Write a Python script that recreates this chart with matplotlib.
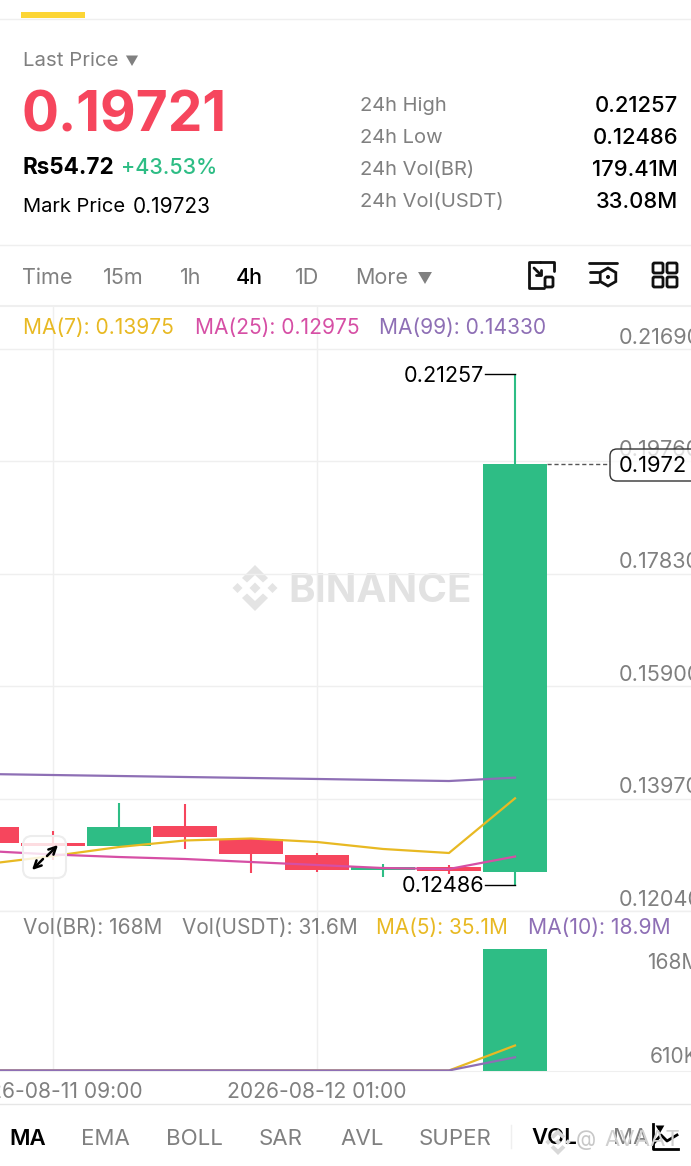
import matplotlib
matplotlib.use('Agg')
import matplotlib.pyplot as plt
from matplotlib.patches import FancyBboxPatch, Polygon, Rectangle, RegularPolygon
import numpy as np

plt.rcParams['font.family'] = ['Inter', 'DejaVu Sans']

W, H = 691, 1166
GREEN = '#2EBD85'
RED = '#F6465D'
YELLOW = '#E8B923'
PINK = '#D64FA5'
PURPLE = '#8E6FB5'
GRAY = '#808080'
GRID = '#EFEFEF'

# candles
idx = [0, 1, 2, 3, 4, 5, 6, 7, 8]
opens = [0.13482, 0.13203, 0.13156, 0.13500, 0.13276, 0.13007, 0.12749, 0.12801, 0.12710]
closes = [0.13208, 0.13156, 0.13488, 0.13311, 0.13014, 0.12744, 0.12796, 0.12727, 0.19721]
highs = [0.13482, 0.13419, 0.13895, 0.13877, 0.13276, 0.13041, 0.12847, 0.12830, 0.21257]
lows = [0.13208, 0.12916, 0.13156, 0.13110, 0.12693, 0.12710, 0.12624, 0.12675, 0.12486]

ma7 = [0.12847, 0.12984, 0.13139, 0.13251, 0.13285, 0.13225, 0.13105, 0.13036, 0.13975]
ma25 = [0.13070, 0.13010, 0.12967, 0.12933, 0.12881, 0.12830, 0.12778, 0.12761, 0.12975]
ma99 = [0.14392, 0.14375, 0.14358, 0.14341, 0.14324, 0.14307, 0.14289, 0.14272, 0.14330]

price_ticks = [0.21690, 0.19760, 0.17830, 0.15900, 0.13970, 0.12040]
price_labels = ['0.21690', '0.19760', '0.17830', '0.15900', '0.13970', '0.12040']

# volume panel, in millions
vols = [0.8, 0.6, 1.0, 0.9, 0.7, 0.8, 0.5, 0.6, 168.0]
vol_ma5 = [0.8, 0.8, 0.9, 0.9, 0.8, 0.8, 0.8, 0.7, 35.1]
vol_ma10 = [0.9, 0.9, 0.9, 0.9, 0.9, 0.8, 0.8, 0.8, 18.9]
time_ticks = [1, 5]
time_labels = ['2026-08-11 09:00', '2026-08-12 01:00']

tabs = ['Time', '15m', '1h', '4h', '1D', 'More']
tab_x = [22, 103, 180, 236, 295, 355]
indicators = ['MA', 'EMA', 'BOLL', 'SAR', 'AVL', 'SUPER']
indicator_x = [9, 81, 166, 259, 340, 419]
stats_names = ['24h High', '24h Low', '24h Vol(BR)', '24h Vol(USDT)']
stats_values = ['0.21257', '0.12486', '179.41M', '33.08M']
stats_y = [104, 136, 168, 200]

fig = plt.figure(figsize=(W / 100, H / 100), dpi=100, facecolor='white')

# whole-figure layer in pixel coordinates for the app chrome
ui = fig.add_axes([0, 0, 1, 1], zorder=0)
ui.set_xlim(0, W)
ui.set_ylim(H, 0)
ui.axis('off')


def txt(layer, x, y, s, size, color='black', weight='normal', ha='left', **kw):
    # va=center lands a bit high with this font, hence the +2
    return layer.text(x, y + 2, s, fontsize=size, color=color, fontweight=weight, ha=ha, va='center', **kw)


def logo(layer, cx, cy, r, color, zorder=1):
    # binance mark: middle + side diamonds, top and bottom chevrons
    k = r / 23.0
    for dx, dy, d in [(0, 0, 5.5), (-17.5, 0, 5), (17.5, 0, 5)]:
        layer.add_patch(Polygon([(cx + (dx) * k, cy + (dy - d) * k), (cx + (dx + d) * k, cy + dy * k),
                                 (cx + dx * k, cy + (dy + d) * k), (cx + (dx - d) * k, cy + dy * k)],
                                fc=color, ec='none', zorder=zorder))
    for s in (-1, 1):
        pts = [(0, 23), (13, 10), (8, 5.5), (0, 13), (-8, 5.5), (-13, 10)]
        layer.add_patch(Polygon([(cx + a * k, cy + s * b * k) for a, b in pts], fc=color, ec='none', zorder=zorder))


# header
ui.add_patch(Rectangle((21, 12), 64, 6, fc='#FCD535', ec='none'))
ui.plot([0, W], [18.5, 18.5], color=GRID, lw=1)
txt(ui, 23, 59, 'Last Price', 14.7, GRAY)
ui.add_patch(RegularPolygon((132, 59), 3, radius=7, orientation=0, fc=GRAY, ec='none'))
txt(ui, 22, 114, '0.19721', 39.6, RED, 'bold')
txt(ui, 23, 166, 'Rs54.72', 16.2, 'black', 'bold')
txt(ui, 121, 166, '+43.53%', 15.4, GREEN, 'medium')
txt(ui, 23, 205, 'Mark Price', 14.5)
txt(ui, 133, 205, '0.19723', 15)
for name, value, y in zip(stats_names, stats_values, stats_y):
    txt(ui, 360, y, name, 14.5, GRAY)
    txt(ui, 678, y, value, 15.8, 'black', 'medium', ha='right')
ui.plot([0, W], [244.5, 244.5], color=GRID, lw=1)

# interval tabs
for name, x in zip(tabs, tab_x):
    txt(ui, x, 276, name, 15.5, 'black' if name == '4h' else GRAY, 'medium' if name == '4h' else 'normal')
ui.add_patch(RegularPolygon((425, 276), 3, radius=8, orientation=0, fc=GRAY, ec='none'))

# toolbar icons
ic = dict(color='#111111', lw=2, solid_capstyle='round', solid_joinstyle='round')
ui.plot([540, 554, 554], [262, 262, 271], **ic)
ui.plot([540, 529, 529, 544], [262, 262, 288, 288], **ic)
ui.add_patch(FancyBboxPatch((545, 277), 8, 10, boxstyle='round,pad=0,rounding_size=1.5', fc='none', ec='#111111', lw=2))
ui.plot([534, 541], [268, 275], **ic)
ui.plot([536, 541, 541], [275, 275, 270], **ic)
ui.plot([589, 617], [263, 263], **ic)
ui.plot([590, 598], [272, 272], **ic)
ui.plot([590, 598], [282, 282], **ic)
ui.add_patch(RegularPolygon((608, 277), 6, radius=9, fc='none', ec='#111111', lw=2))
ui.add_patch(plt.Circle((608, 277), 2, fc='#111111', ec='none'))
for bx, by in [(653, 263), (667, 263), (653, 277), (667, 277)]:
    ui.add_patch(FancyBboxPatch((bx, by), 10, 10, boxstyle='round,pad=0,rounding_size=1.5', fc='none', ec='#111111', lw=2))
ui.plot([0, W], [306, 306], color=GRID, lw=1.5)

# price panel
px_per_price = 112.4 / 0.0193
ax = fig.add_axes([0, (H - 911) / H, 1, (911 - 306) / H], zorder=2)
ax.patch.set_alpha(0)
ax.set_xlim(13 / 66, 704 / 66)
ax.set_ylim(0.1204, 0.1204 + (911 - 306) / px_per_price)
for s in ax.spines.values():
    s.set_visible(False)
ax.tick_params(left=False, bottom=False, labelleft=False, labelbottom=False)
ax.set_yticks(price_ticks)
ax.set_xticks(time_ticks)
ax.grid(True, color=GRID, lw=1)
ax.set_axisbelow(True)

colors = [GREEN if c >= o else RED for o, c in zip(opens, closes)]
ax.vlines(idx, lows, highs, colors=colors, lw=1.5, zorder=2)
ax.bar(idx, np.abs(np.array(closes) - np.array(opens)), bottom=np.minimum(opens, closes),
       width=64 / 66, color=colors, zorder=3)
ax.plot(idx, ma99, color=PURPLE, lw=1.6, zorder=4)
ax.plot(idx, ma7, color=YELLOW, lw=1.6, zorder=4)
ax.plot(idx, ma25, color=PINK, lw=1.6, zorder=4)

# watermark in the chart
logo(ui, 255, 588, 23, '#E4E4E4', zorder=1)
txt(ui, 288, 589, 'BINANCE', 29, '#E2E2E2', 'bold')

# price labels sit on top of their gridline
for p, lab in zip(price_ticks, price_labels):
    ax.annotate(lab, (619, p), xycoords=('figure pixels', 'data'), xytext=(0, 1), textcoords='offset points',
                fontsize=15.6, color=GRAY, ha='left', va='bottom', annotation_clip=False, zorder=5)

# high / low callouts
ax.plot([7.55, 8], [highs[-1], highs[-1]], color='black', lw=1, zorder=5)
ax.plot([7.55, 8], [lows[-1], lows[-1]], color='black', lw=1, zorder=5)
ax.annotate('0.21257', (7.53, highs[-1]), xytext=(0, -1.5), textcoords='offset points',
            fontsize=15.6, ha='right', va='center', zorder=6)
ax.annotate('0.12486', (7.53, lows[-1]), xytext=(0, -1), textcoords='offset points',
            fontsize=15.6, ha='right', va='center', zorder=6)

# last price tag
ax.plot([8.485, 9.44], [closes[-1], closes[-1]], color='#555555', lw=1, ls=(0, (3, 2)), zorder=5)
ui_top = fig.add_axes([0, 0, 1, 1], zorder=5)
ui_top.set_xlim(0, W)
ui_top.set_ylim(H, 0)
ui_top.axis('off')
ui_top.add_patch(FancyBboxPatch((610, 449), 110, 32, boxstyle='round,pad=0,rounding_size=7',
                                fc=(1, 1, 1, 0.75), ec='#333333', lw=1))
txt(ui_top, 619, 464, '0.1972', 15.8)

# MA legend
txt(ui_top, 23, 326, 'MA(7): 0.13975', 15.1, YELLOW)
txt(ui_top, 195, 326, 'MA(25): 0.12975', 15.1, PINK)
txt(ui_top, 379, 326, 'MA(99): 0.14330', 15.1, PURPLE)

# floating expand button
ui_top.add_patch(FancyBboxPatch((23, 836), 43, 42, boxstyle='round,pad=0,rounding_size=9',
                                fc=(1, 1, 1, 0.82), ec='#EDEDED', lw=1.5))
arrow = dict(arrowstyle='->', color='black', lw=1.8, mutation_scale=13, shrinkA=0, shrinkB=0)
ui_top.annotate('', (58, 845), (47, 856), arrowprops=arrow)
ui_top.annotate('', (32, 870), (43, 859), arrowprops=arrow)

# volume panel
ui.plot([0, W], [911, 911], color=GRID, lw=1)
txt(ui_top, 23, 926, 'Vol(BR): 168M', 15, GRAY)
txt(ui_top, 182, 926, 'Vol(USDT): 31.6M', 15, GRAY)
txt(ui_top, 376, 926, 'MA(5): 35.1M', 15, YELLOW)
txt(ui_top, 528, 926, 'MA(10): 18.9M', 15.2, PURPLE)

vol_scale = 122 / 168.0
axv = fig.add_axes([0, (H - 1071) / H, 1, (1071 - 911) / H], zorder=2)
axv.patch.set_alpha(0)
axv.set_xlim(13 / 66, 704 / 66)
axv.set_ylim(0, 160 / vol_scale)
for s in axv.spines.values():
    s.set_visible(False)
axv.spines['bottom'].set_visible(True)
axv.spines['bottom'].set_color(GRID)
axv.set_xticks(time_ticks)
axv.set_xticklabels(time_labels, fontsize=15.2, color=GRAY)
axv.tick_params(axis='x', length=0, pad=8)
axv.tick_params(left=False, labelleft=False)
axv.grid(True, axis='x', color=GRID, lw=1)
axv.set_axisbelow(True)
axv.bar(idx, vols, width=64 / 66, color=colors, zorder=3)
axv.plot(idx, vol_ma5, color=YELLOW, lw=1.6, zorder=4)
axv.plot(idx, vol_ma10, color=PURPLE, lw=1.6, zorder=4)
txt(ui_top, 647, 961, '168M', 15, GRAY)
txt(ui_top, 650, 1055, '610K', 15, GRAY)

# indicator row
ui.plot([0, W], [1103.5, 1103.5], color='#E6E6E6', lw=1)
for name, x in zip(indicators, indicator_x):
    active = name == 'MA'
    txt(ui, x, 1137, name, 16, 'black' if active else GRAY, 'semibold' if active else 'normal')
ui.plot([511, 511], [1125, 1148], color=GRID, lw=1)
txt(ui, 531, 1136, 'VOL', 16, 'black', 'semibold')
txt(ui, 613, 1136, 'MA', 16, GRAY)
ui.plot([653, 653, 678], [1124, 1149, 1149], color='black', lw=2)
ui.plot([654, 661, 667, 677], [1143, 1135, 1141, 1135], color='black', lw=2)
ui.add_patch(RegularPolygon((660, 1128), 3, radius=5, orientation=0, fc='black', ec='none'))

# share watermark over the row
logo(ui_top, 558, 1142, 13, '#D8D8D8', zorder=1)
txt(ui_top, 576, 1138, '@', 15, '#C8C8C8')
txt(ui_top, 604, 1138, 'AVAAT', 16, '#D0D0D0')

fig.savefig('out.png', dpi=100)
